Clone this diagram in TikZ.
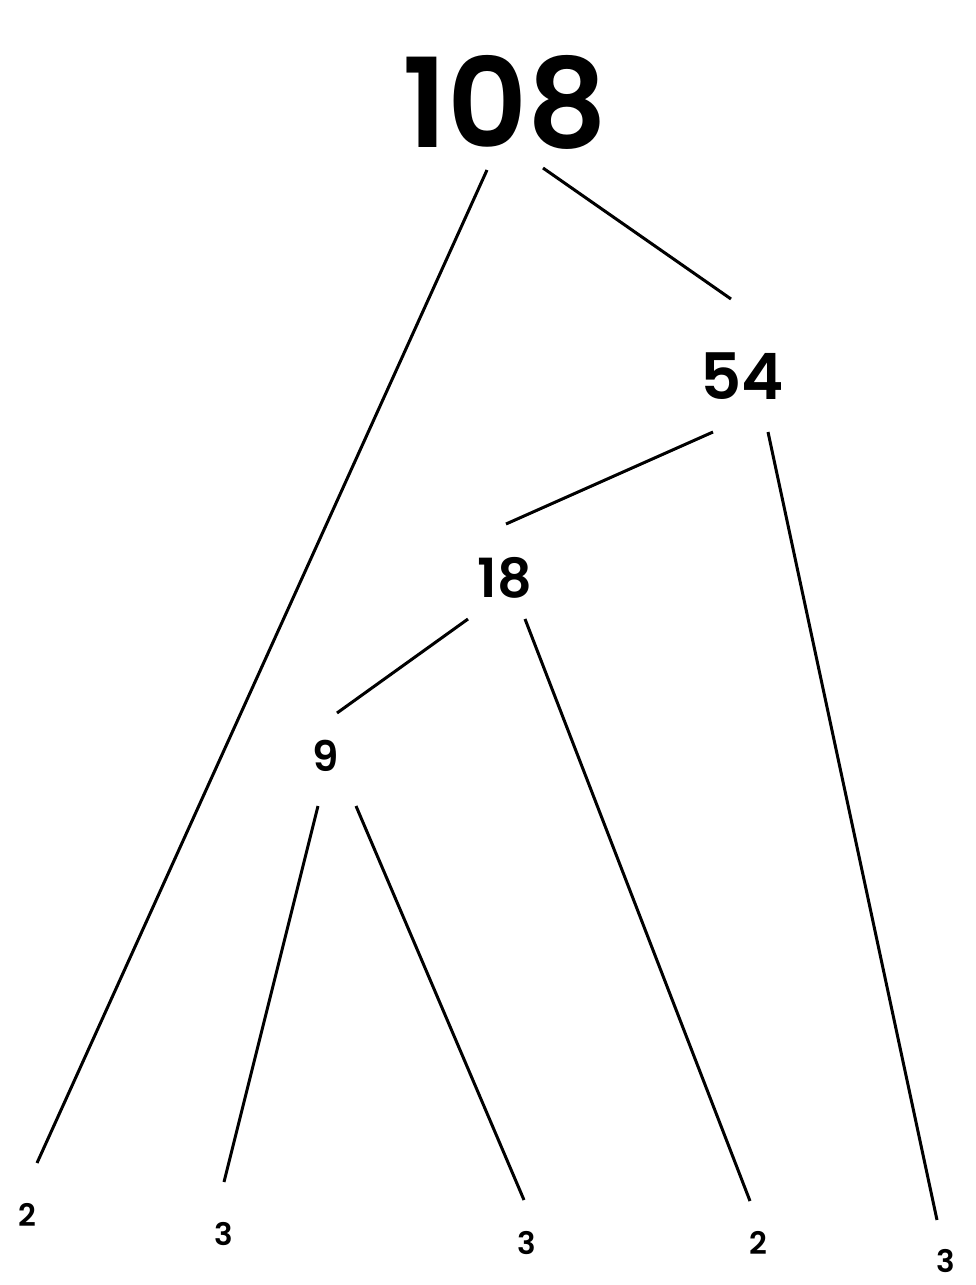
\documentclass[tikz,border=0pt]{standalone}
\usepackage{fontspec}
\setmainfont{Poppins}[BoldFont={Poppins SemiBold}]
\begin{document}
\begin{tikzpicture}[
    x=1pt, y=-1pt,
    num/.style = {inner sep=0pt, font=\bfseries\fontsize{#1}{#1}\selectfont},
    leaf/.style = {num=31},
    link/.style = {line width=3pt}
     ]
\useasboundingbox (0,0) rectangle (975,1285);
		\node[num=124] (n108) at (505,102) {108};
		\node[num=64]  (n54)  at (742,376) {54};
		\node[num=54]  (n18)  at (505,578) {18};
		\node[num=42]  (n9)   at (326,756) {9};
%
		\node[leaf] (l2a) at (27,1215)  {2};
		\node[leaf] (l3a) at (224,1234) {3};
		\node[leaf] (l3b) at (527,1243) {3};
		\node[leaf] (l2b) at (758,1243) {2};
		\node[leaf] (l3c) at (946,1261) {3};
%
		\draw[link] ([shift={(-18,68)}] n108.center) -- ([shift={(10,-52)}] l2a.center);
		\draw[link] ([shift={(38,66)}] n108.center)  -- ([shift={(-11,-77)}] n54.center);
%
		\draw[link] ([shift={(-29,56)}] n54.center) -- ([shift={(1,-54)}] n18.center);
		\draw[link] ([shift={(26,56)}] n54.center)  -- ([shift={(-9,-41)}] l3c.center);
%
		\draw[link] ([shift={(-37,41)}] n18.center) -- ([shift={(11,-43)}] n9.center);
		\draw[link] ([shift={(20,41)}] n18.center)  -- ([shift={(-8,-42)}] l2b.center);
%
		\draw[link] ([shift={(-8,50)}] n9.center) -- ([shift={(0,-52)}] l3a.center);
		\draw[link] ([shift={(30,50)}] n9.center) -- ([shift={(-3,-43)}] l3b.center);
\end{tikzpicture}
\end{document}
